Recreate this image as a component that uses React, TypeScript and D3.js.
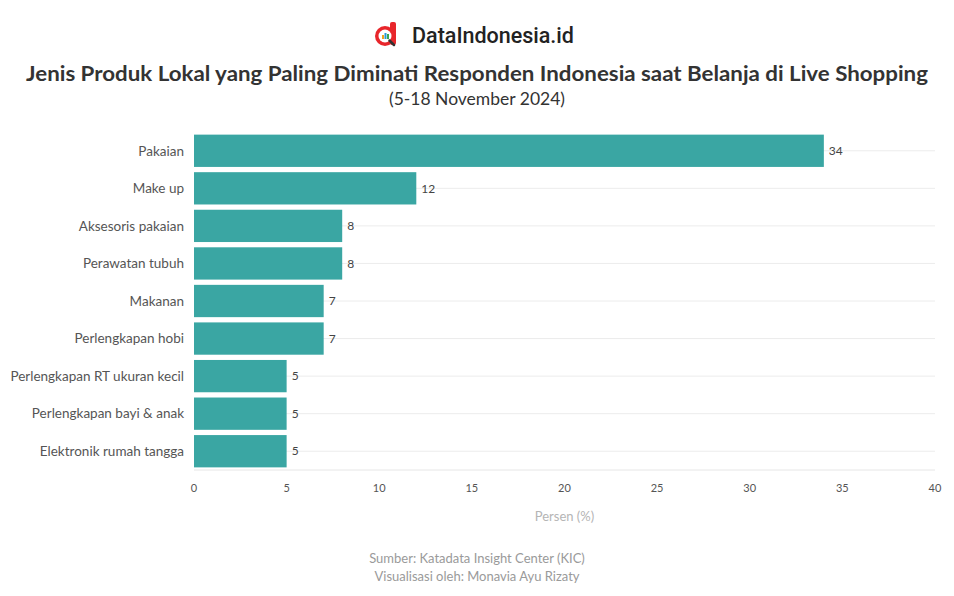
import React from "react";
import * as d3 from "d3";

const categories = [
  "Pakaian",
  "Make up",
  "Aksesoris pakaian",
  "Perawatan tubuh",
  "Makanan",
  "Perlengkapan hobi",
  "Perlengkapan RT ukuran kecil",
  "Perlengkapan bayi & anak",
  "Elektronik rumah tangga",
];
const values = [34, 12, 8, 8, 7, 7, 5, 5, 5];
const xTicks = [0, 5, 10, 15, 20, 25, 30, 35, 40];

const W = 954;
const H = 596;
const margin = { left: 194, right: 19, top: 132, bottom: 126 };

export default function App() {
  const x = d3.scaleLinear().domain([0, 40]).range([margin.left, W - margin.right]);
  const y = d3
    .scaleBand<string>()
    .domain(categories)
    .range([margin.top, H - margin.bottom])
    .paddingInner(0.14)
    .paddingOuter(0.07);
  const bw = y.bandwidth();
  const font = "'Lato', 'Open Sans', sans-serif";

  return (
    <svg
      width={W}
      height={H}
      style={{ position: "absolute", left: 0, top: 0, background: "#fff" }}
    >
      <rect width={W} height={H} fill="#fff" />
      {/* logo */}
      <g transform="translate(375,22)">
        <rect x={15} y={0} width={6} height={23} rx={2} fill="#e8262b" />
        <circle cx={10} cy={14} r={10} fill="#e8262b" />
        <circle cx={10} cy={14} r={6.5} fill="#fff" />
        <rect x={7} y={13} width={2} height={4} fill="#f2a31b" />
        <rect x={9.5} y={11} width={2} height={6} fill="#2a9bd6" />
        <rect x={12} y={12} width={2} height={5} fill="#3aa654" />
        <line x1={14.5} y1={18.5} x2={19} y2={23} stroke="#333" strokeWidth={2.5} strokeLinecap="round" />
      </g>
      <text
        x={412}
        y={43}
        fontFamily="Roboto, sans-serif"
        fontWeight={500}
        fontSize={21.5}
        fill="#222"
      >
        DataIndonesia.id
      </text>
      <text
        x={W / 2}
        y={81}
        textAnchor="middle"
        fontFamily={font}
        fontWeight={700}
        fontSize={20}
        fill="#333"
        textLength={902}
        lengthAdjust="spacingAndGlyphs"
      >
        Jenis Produk Lokal yang Paling Diminati Responden Indonesia saat Belanja di Live Shopping
      </text>
      <text
        x={W / 2}
        y={105}
        textAnchor="middle"
        fontFamily={font}
        fontSize={17.5}
        fill="#333"
      >
        (5-18 November 2024)
      </text>

      {/* gridlines */}
      {categories.map((c) => (
        <line
          key={"g" + c}
          x1={margin.left}
          x2={W - margin.right}
          y1={y(c)! + bw / 2}
          y2={y(c)! + bw / 2}
          stroke="#ececec"
          strokeWidth={1}
        />
      ))}
      <line
        x1={margin.left}
        x2={W - margin.right}
        y1={H - margin.bottom}
        y2={H - margin.bottom}
        stroke="#e6e6e6"
      />

      {/* bars */}
      {categories.map((c, i) => (
        <g key={c}>
          <rect
            x={x(0)}
            y={y(c)!}
            width={x(values[i]) - x(0)}
            height={bw}
            fill="#3aa6a3"
          />
          <text
            x={x(values[i]) + 5}
            y={y(c)! + bw / 2}
            dy="0.35em"
            fontFamily={font}
            fontSize={12}
            fill="#444"
          >
            {values[i]}
          </text>
          <text
            x={margin.left - 10}
            y={y(c)! + bw / 2}
            dy="0.35em"
            textAnchor="end"
            fontFamily={font}
            fontSize={13.5}
            fill="#555"
          >
            {c}
          </text>
        </g>
      ))}

      {/* x axis ticks */}
      {xTicks.map((t) => (
        <text
          key={"t" + t}
          x={x(t)}
          y={492}
          textAnchor="middle"
          fontFamily={font}
          fontSize={11}
          fill="#555"
        >
          {t}
        </text>
      ))}
      <text
        x={(margin.left + W - margin.right) / 2}
        y={521}
        textAnchor="middle"
        fontFamily={font}
        fontSize={13}
        fill="#b5b5b5"
      >
        Persen (%)
      </text>

      <text x={W / 2} y={563} textAnchor="middle" fontFamily={font} fontSize={13} fill="#9a9a9a">
        Sumber: Katadata Insight Center (KIC)
      </text>
      <text x={W / 2} y={581} textAnchor="middle" fontFamily={font} fontSize={13} fill="#9a9a9a">
        Visualisasi oleh: Monavia Ayu Rizaty
      </text>
    </svg>
  );
}
